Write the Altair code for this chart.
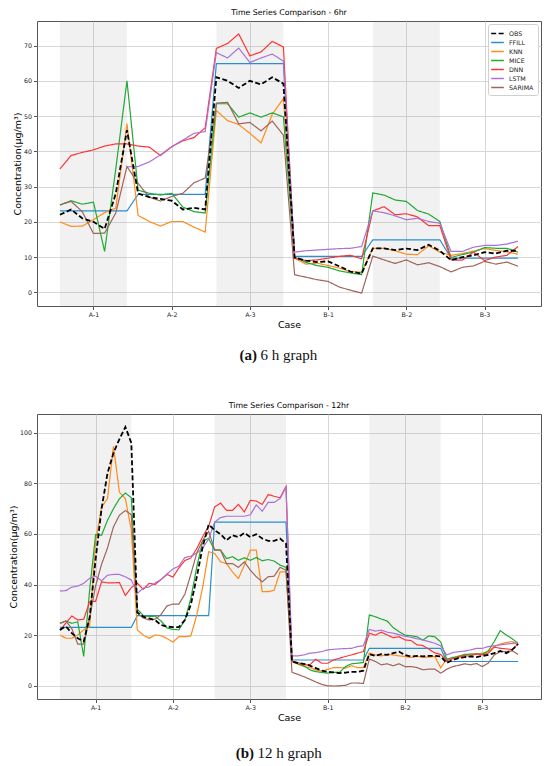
import altair as alt
import pandas as pd

CASES = ["A-1", "A-2", "A-3", "B-1", "B-2", "B-3"]
SHADED_CASES = ["A-1", "A-3", "B-2"]
SERIES = ["OBS", "FFILL", "KNN", "MICE", "DNN", "LSTM", "SARIMA"]
COLORS = ["#000000", "#2a8fd0", "#ff8c1a", "#1faa33", "#ff3535", "#ab72d6", "#a0645a"]
DASHES = [[5, 2.5], [1, 0], [1, 0], [1, 0], [1, 0], [1, 0], [1, 0]]

# ---------------- 6 hr panel (7 points per case) ----------------
OBS_6 = [22, 23.5, 21, 20, 18, 28, 46,
         28, 27, 26.5, 26, 23.5, 24, 23.5,
         61, 60, 58, 60, 59, 61, 59.2,
         9.9, 9.0, 8.6, 8.8, 7.4, 5.9, 5.3,
         12.5, 12.5, 12.0, 12.4, 12.0, 13.5, 11.8,
         9.1, 10.0, 10.5, 11.4, 11.0, 11.8, 11.8]
FFILL_6 = [23.1] * 7 + [27.8] * 7 + [64.9] * 7 + [10.2] * 7 + [14.9] * 7 + [9.7] * 7
KNN_6 = [20, 18.7, 18.8, 20.6, 22.6, 23.9, 47.9,
         21.8, 20.1, 18.8, 20.1, 20.1, 18.5, 17.1,
         51.6, 48.7, 47.6, 45.1, 42.4, 50.5, 55,
         9.7, 8.0, 8.3, 7.6, 6.9, 5.9, 5.7,
         12.5, 12.5, 11.8, 10.8, 10.7, 13.2, 11.4,
         10.5, 11.0, 11.7, 12.4, 11.9, 11.5, 10.8]
MICE_6 = [24.8, 26, 25, 25.6, 11.6, 35, 60,
          29, 28.1, 27.6, 28.1, 24.2, 22.9, 22.5,
          53.5, 53.5, 49.7, 50.9, 49.7, 50.9, 49.8,
          10, 8.5, 7.6, 7.1, 6.1, 5.5, 5.0,
          28.2, 27.6, 26.2, 25.8, 23.2, 22.2, 20.1,
          9.9, 10.7, 11.4, 12.7, 12.5, 12.5, 11.4]
DNN_6 = [35, 38.8, 39.7, 40.4, 41.5, 42.1, 42.1,
         41.5, 41.2, 38.8, 41.3, 43, 43.9, 46.7,
         69.2, 70.6, 73.3, 67.1, 68.2, 71.2, 69.6,
         9.7, 9.0, 9.2, 9.7, 10.2, 10.5, 9.5,
         23.1, 24.3, 22, 22.3, 21.4, 18.9, 18.9,
         9.2, 9.1, 11.4, 9.0, 10, 10.5, 13]
LSTM_6 = [None, None, None, None, None, None, 35.6,
          35.7, 37, 39, 41.3, 43.2, 45.1, 45.6,
          68, 66.5, 69.3, 65.2, 66.5, 67.6, 65.6,
          11.4, 11.8, 12, 12.2, 12.4, 12.5, 13,
          23.1, 22.6, 21.7, 20.6, 21, 20.1, 19.6,
          11.6, 11.6, 12.8, 13.3, 13.3, 13.7, 14.5]
SARIMA_6 = [24.8, 25.8, 22.9, 16.7, 16.8, 22.5, 35.7,
            30.9, 27, 25.9, 27.2, 28.1, 31.1, 32.4,
            53.7, 53.9, 47.8, 48.2, 45.8, 48.6, 44.6,
            5, 4.3, 3.6, 3.1, 1.5, 0.6, -0.2,
            10.3, 9.2, 8.2, 9.2, 7.8, 8.4, 7.3,
            5.8, 7.1, 7.5, 8.8, 8.0, 8.6, 7.4]

# ---------------- 12 hr panel (13 points per case) ----------------
OBS_12 = [22.1, 23.5, 20.8, 18.8, 17.5, 27, 50, 70, 84, 92, 97.5, 102.3, 96,
          29, 27.3, 26.6, 26, 24, 23.4, 23.2, 23.2, 26, 32, 43, 55, 63.7,
          61.5, 59.9, 57.5, 59.5, 58.8, 60.4, 58.8, 59.9, 58.2, 57.3, 57.3, 58.2, 56.2,
          9.6, 9.0, 8.7, 8.0, 7.0, 6.0, 5.5, 5.3, 5.0, 5.2, 5.5, 5.5, 6.0,
          12.5, 11.8, 12.5, 12.2, 12.9, 13.5, 12.2, 11.6, 11.8, 11.6, 11.8, 11.8, 11.6,
          9.0, 10.2, 10.9, 11.3, 11.6, 11.3, 11.8, 12.2, 12.9, 13.8, 12.9, 14.2, 16.5]
FFILL_12 = [23.1] * 13 + [27.7] * 13 + [64.7] * 13 + [10.2] * 13 + [14.8] * 13 + [9.6] * 13
KNN_12 = [20.1, 18.8, 18.8, 20.1, 22.1, 23.4, 57, 70.6, 74, 94.6, 76.5, 74, 61.5,
          22.1, 20.1, 18.8, 20.1, 19.8, 18.7, 17.3, 19.4, 19.4, 19.7, 28, 39, 53,
          52.3, 49, 48.3, 45, 42.4, 47.7, 53.6, 53.6, 37.2, 37.2, 37.8, 45, 45,
          9.6, 8.5, 7.6, 7.2, 6.3, 5.8, 6.5, 7.2, 7.2, 7.0, 7.9, 7.2, 7.2,
          12.9, 12.2, 11.8, 12.5, 12.2, 11.8, 11.6, 11.2, 11.6, 11.3, 11.3, 11.6, 7.1,
          10.5, 10.9, 11.8, 12.2, 12.5, 12.5, 12.9, 13.5, 15.5, 16.5, 17.1, 17.5, 16.2]
MICE_12 = [24.7, 25.6, 24.7, 25.3, 11.6, 38, 59.8, 59.5, 65.4, 70, 73.9, 76.2, 74.3,
           30.3, 27.8, 27.4, 27.5, 25.6, 22.9, 22.3, 22.1, 26, 34.5, 47, 57.3, 58.2,
           53.6, 53.6, 50.3, 51, 49.6, 50.6, 49.6, 50.7, 49.4, 49.9, 49.3, 47.7, 46.8,
           9.9, 8.7, 7.9, 6.3, 5.6, 5.3, 5.0, 5.3, 5.3, 7.6, 8.7, 8.9, 9.2,
           28, 27.3, 26.4, 25.6, 23, 21.4, 20, 19.8, 19.4, 18.1, 19.7, 19.4, 17.3,
           10.5, 11.2, 11.5, 12.4, 12.5, 12.6, 12.5, 13.8, 17.5, 21.8, 20.1, 18.6, 16.8]
DNN_12 = [22, 24.8, 27.6, 26, 26.3, 33.2, 33.4, 41.1, 40.7, 40.7, 40.8, 35.7, 38.8,
          40.6, 38.1, 40.5, 40, 42, 44, 43, 46.6, 49.5, 50.5, 54.2, 59, 63,
          70.7, 72.2, 69.3, 69.3, 71.7, 68.7, 73.3, 73, 71.7, 75.6, 74.9, 74.3, 78.8,
          9.6, 9.2, 8.3, 8.3, 10.5, 8.9, 8.9, 10.2, 10.9, 11.6, 12.2, 12.9, 13.5,
          20.8, 20, 21.2, 20.1, 19, 19.4, 18.1, 17.9, 16.2, 15.9, 14.5, 13, 12.4,
          9.9, 10.7, 11.3, 11.9, 11.7, 12.7, 12.2, 12.9, 15.3, 14.8, 14.6, 14.3, 16.6]
LSTM_12 = [37.5, 37.6, 39, 39.4, 40.5, 42.5, 43.3, 41.5, 43.7, 44, 44, 43.1, 41.8,
           36.5, 38.6, 39.1, 40.6, 42, 44.2, 46.2, 47.3, 50.7, 51.2, 52.4, 54.5, 58,
           64.7, 66.5, 67, 67, 67, 67, 67.6, 71.5, 69, 72.5, 72.5, 74, 78.5,
           11.8, 11.8, 12.2, 12.9, 13.1, 13.5, 14.2, 14.4, 14.6, 14.7, 14.8, 15.5, 15.8,
           22.3, 21.6, 22, 21.2, 20.8, 20.2, 19.6, 19.2, 18.6, 18.1, 17.5, 16.8, 15.8,
           12.2, 13.1, 13.5, 13.7, 14.2, 14.8, 14.8, 15.5, 15.8, 16.2, 16.5, 16.7, 17]
SARIMA_12 = [24.7, 25.6, 22.6, 16.5, 16.5, 27, 39.5, 48, 54.5, 62.8, 67.4, 69.3, 67.6,
             28.8, 26.8, 26, 26.3, 28.2, 31.6, 32.3, 32.3, 36.2, 44, 52.5, 57.5, 61,
             53.8, 53.6, 48.3, 48.3, 46.8, 49, 45.7, 43.1, 41.1, 43.1, 43.3, 46.8, 45.7,
             5.3, 4.5, 3.6, 2.6, 1.5, 0.6, 0.0, -0.1, 0.0, 0.2, 1.1, 1.1, 0.9,
             10.6, 9.6, 8.3, 8.7, 7.9, 8.7, 7.6, 7.6, 7.2, 6.3, 6.6, 6.6, 5.0,
             6.5, 7.6, 8.1, 8.7, 8.3, 8.8, 7.6, 9.0, 12.2, 13.5, 13.5, 13.8, 12.4]

DATA_6 = dict(zip(SERIES, [OBS_6, FFILL_6, KNN_6, MICE_6, DNN_6, LSTM_6, SARIMA_6]))
DATA_12 = dict(zip(SERIES, [OBS_12, FFILL_12, KNN_12, MICE_12, DNN_12, LSTM_12, SARIMA_12]))

FONT = "DejaVu Sans"


def panel(data, per_case, title, tick_step, cap_bold, cap_rest, cap_y, cap_xb, cap_xr):
    rows = []
    for s in SERIES:
        for i, v in enumerate(data[s]):
            if v is None:
                continue
            rows.append({"i": i, "v": v, "series": s})
    df = pd.DataFrame(rows)
    n = per_case * len(CASES)
    mx = 0.05 * (n - 1)
    lo, hi = df["v"].min(), df["v"].max()
    my = 0.05 * (hi - lo)
    xs = alt.Scale(domain=[-mx, n - 1 + mx], nice=False, zero=False)
    ys = alt.Scale(domain=[lo - my, hi + my], nice=False, zero=False)
    c0 = (per_case - 1) / 2
    tick_idx = [k * per_case + c0 for k in range(len(CASES))]
    arr = "[" + ",".join("'%s'" % c for c in CASES) + "]"
    xaxis = alt.Axis(values=tick_idx, labelExpr="%s[round((datum.value-%s)/%d)]" % (arr, c0, per_case),
                     title="Case", grid=True)
    yaxis = alt.Axis(values=list(range(0, int(hi) + 1, tick_step)), title="Concentration(μg/m³)", grid=True)

    sh = pd.DataFrame([{"start": CASES.index(c) * per_case,
                        "end": CASES.index(c) * per_case + per_case - 1} for c in SHADED_CASES])
    shade = alt.Chart(sh).mark_rect(fill="#8c8c8c", opacity=0.12).encode(
        x=alt.X("start:Q", scale=xs, axis=xaxis), x2="end:Q")

    color = alt.Color("series:N", scale=alt.Scale(domain=SERIES, range=COLORS), title=None,
                      legend=alt.Legend(orient="top-right"))
    dash = alt.StrokeDash("series:N", scale=alt.Scale(domain=SERIES, range=DASHES), title=None,
                          legend=alt.Legend(orient="top-right"))
    base = alt.Chart(df).encode(
        x=alt.X("i:Q", scale=xs, axis=xaxis),
        y=alt.Y("v:Q", scale=ys, axis=yaxis),
        color=color, strokeDash=dash, detail="series:N")
    models = base.transform_filter(alt.datum.series != "OBS").mark_line(strokeWidth=1.2)
    obs = base.transform_filter(alt.datum.series == "OBS").mark_line(strokeWidth=1.8)

    capb = alt.Chart(pd.DataFrame({"t": [cap_bold]})).mark_text(
        font="Liberation Serif", fontSize=15, fontWeight="bold", align="right", baseline="middle",
        color="#111").encode(x=alt.value(cap_xb), y=alt.value(cap_y), text="t:N")
    capr = alt.Chart(pd.DataFrame({"t": [cap_rest]})).mark_text(
        font="Liberation Serif", fontSize=15, align="left", baseline="middle",
        color="#111").encode(x=alt.value(cap_xr), y=alt.value(cap_y), text="t:N")

    return alt.layer(shade, models, obs, capb, capr).properties(
        width=504, height=285,
        title=alt.TitleParams(title, fontSize=7.8, font=FONT, fontWeight="normal", color="#000",
                              offset=4, anchor="middle"))


p1 = panel(DATA_6, 7, "Time Series Comparison - 6hr", 10, "(a)", "6 h graph", 334, 220, 223.5)
p2 = panel(DATA_12, 13, "Time Series Comparison - 12hr", 20, "(b)", "12 h graph", 339, 217, 220.5)

chart = alt.vconcat(p1, p2, spacing=37).properties(
    padding={"left": 0, "top": 0, "right": 0, "bottom": 0}
).configure_view(stroke="#555555", strokeWidth=1).configure_axis(
    labelFont=FONT, labelFontSize=6.3, labelColor="#222", titleFont=FONT, titleFontSize=9.5,
    titleFontWeight="normal", titleColor="#000", tickColor="#555", tickSize=3.5, domain=False,
    gridColor="#d4d4d4", gridWidth=0.9, labelPadding=2
).configure_axisY(titlePadding=0.5).configure_axisX(titlePadding=1.5).configure_legend(
    labelFont=FONT, labelFontSize=6.3, labelColor="#222", symbolType="M-1.35,0H1.35", symbolSize=88,
    symbolStrokeWidth=1.5, labelOffset=6, fillColor="white", strokeColor="#d0d0d0", cornerRadius=2,
    padding=4, rowPadding=0, offset=3
)

chart.save("out.html", embed_options={"renderer": "svg", "actions": False})
